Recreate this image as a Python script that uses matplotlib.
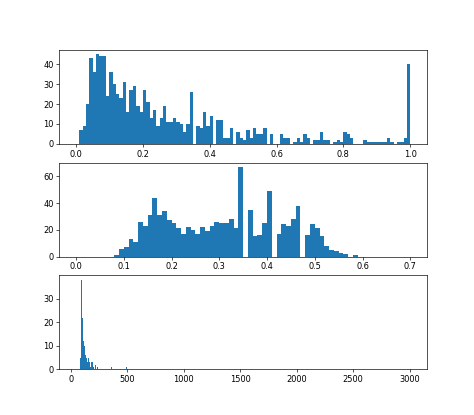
import numpy as np
import matplotlib
matplotlib.use("Agg")
import matplotlib.pyplot as plt

# histogram 1: counts per 0.01 bin, 0.00 .. 0.99
top_counts = [0, 7, 9, 20, 43, 36, 45, 44, 44, 24,
              36, 30, 25, 23, 31, 16, 27, 29, 19, 16,
              27, 21, 13, 17, 9, 13, 19, 11, 11, 13,
              11, 10, 6, 10, 26, 0, 9, 8, 16, 9,
              14, 0, 12, 12, 3, 3, 8, 0, 6, 3,
              2, 7, 3, 8, 5, 5, 8, 0, 5, 0,
              0, 5, 3, 3, 0, 1, 3, 1, 5, 3,
              0, 2, 2, 6, 2, 2, 0, 1, 2, 1,
              6, 5, 3, 0, 0, 0, 2, 1, 1, 1,
              1, 1, 1, 3, 1, 0, 1, 1, 3, 40]

# histogram 2: counts per 0.01 bin, 0.00 .. 0.69
mid_counts = [0, 0, 0, 0, 0, 0, 0, 0, 1, 6,
              7, 13, 11, 26, 23, 31, 44, 31, 34, 27,
              25, 21, 17, 22, 20, 17, 22, 19, 23, 26,
              25, 25, 28, 21, 67, 0, 35, 15, 16, 25,
              49, 0, 17, 24, 23, 28, 38, 0, 16, 24,
              21, 15, 8, 5, 4, 3, 2, 0, 1, 0,
              0, 0, 0, 0, 0, 0, 0, 0, 0, 0]

# histogram 3: sample values and how often they occur
low_values = [83, 86, 89, 92, 95, 98, 101, 104, 107, 110,
              113, 116, 119, 122, 125, 128, 131, 134, 137, 140,
              143, 146, 149, 152, 155, 158, 161, 164, 167, 170,
              173, 176, 179, 182, 185, 188, 191, 194, 197, 200,
              203, 206, 210, 215, 220, 225, 232, 240, 250, 340,
              348, 362, 395, 495, 3005]
low_counts = [3, 2, 5, 28, 34, 38, 20, 15, 22, 13,
              14, 12, 15, 10, 8, 14, 6, 7, 10, 5,
              5, 4, 3, 5, 3, 5, 2, 4, 3, 2,
              2, 1, 3, 2, 3, 1, 2, 3, 1, 2,
              1, 1, 2, 1, 2, 1, 1, 1, 1, 1,
              1, 1, 1, 1, 1]

fig, axes = plt.subplots(3, 1, figsize=(8, 7))

edges1 = np.linspace(0, 1, len(top_counts) + 1)
axes[0].hist(edges1[:-1], bins=edges1, weights=top_counts)

edges2 = np.linspace(0, 0.7, len(mid_counts) + 1)
axes[1].hist(edges2[:-1], bins=edges2, weights=mid_counts)

axes[2].hist(low_values, bins=1000, weights=low_counts,
             range=(48, 3006))

plt.savefig("out.png", dpi=59.3)
